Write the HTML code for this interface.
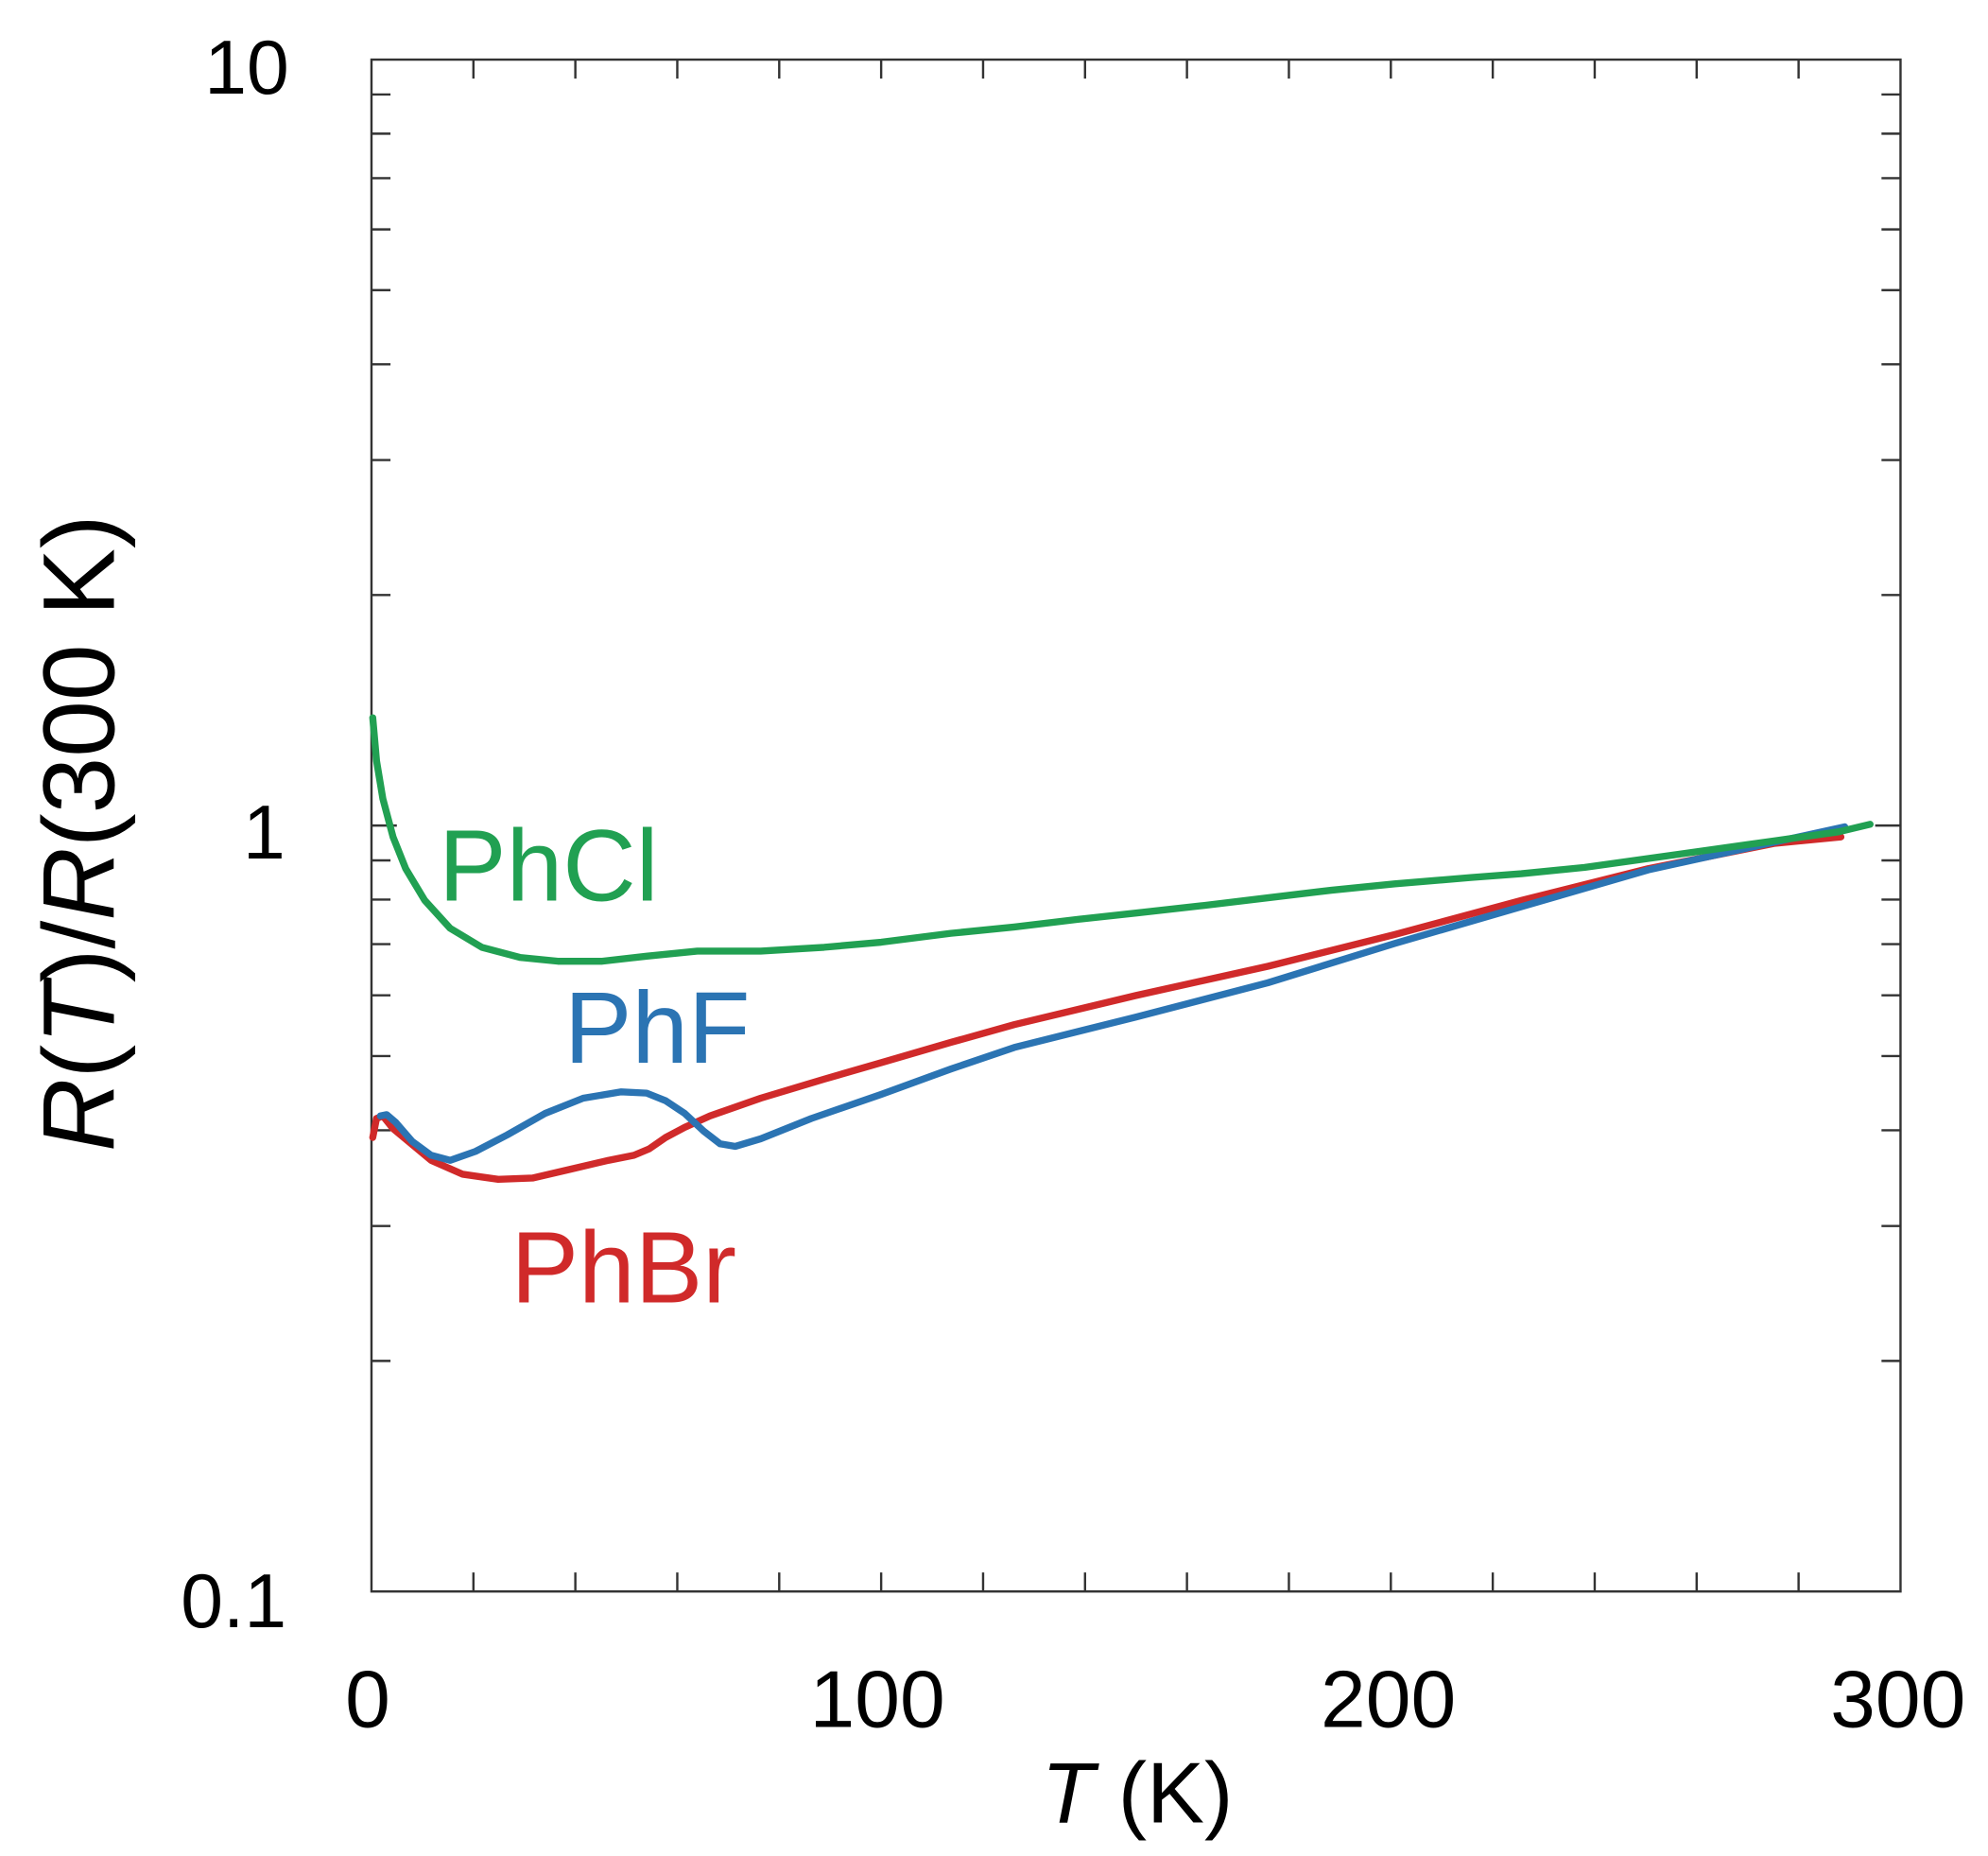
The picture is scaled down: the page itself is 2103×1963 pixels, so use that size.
<!DOCTYPE html>
<html><head><meta charset="utf-8"><style>html,body{margin:0;padding:0;background:#fff}svg{display:block}</style></head>
<body>
<svg width="2103" height="1963" viewBox="0 0 1568 1463.6" xmlns="http://www.w3.org/2000/svg" font-family="Liberation Sans, sans-serif">
<rect x="0" y="0" width="1568" height="1464" fill="#fff"/>
<g stroke="#333" stroke-width="1.8" fill="none">
<rect x="293" y="47" width="1206" height="1208"/>
<path d="M373.4 1255v-15M453.8 1255v-15M534.2 1255v-15M614.6 1255v-15M695 1255v-15M775.4 1255v-15M855.8 1255v-15M936.2 1255v-15M1016.6 1255v-15M1097 1255v-15M1177.4 1255v-15M1257.8 1255v-15M1338.2 1255v-15M1418.6 1255v-15
M373.4 47v15M453.8 47v15M534.2 47v15M614.6 47v15M695 47v15M775.4 47v15M855.8 47v15M936.2 47v15M1016.6 47v15M1097 47v15M1177.4 47v15M1257.8 47v15M1338.2 47v15M1418.6 47v15"/>
<path d="M293 1073.2h15M293 966.8h15M293 891.3h15M293 832.8h15M293 784.9h15M293 744.5h15M293 709.4h15M293 678.5h15M293 651h20
M293 469.2h15M293 362.8h15M293 287.3h15M293 228.8h15M293 180.9h15M293 140.5h15M293 105.4h15M293 74.5h15"/>
<path d="M1499 1073.2h-15M1499 966.8h-15M1499 891.3h-15M1499 832.8h-15M1499 784.9h-15M1499 744.5h-15M1499 709.4h-15M1499 678.5h-15M1499 651h-20
M1499 469.2h-15M1499 362.8h-15M1499 287.3h-15M1499 228.8h-15M1499 180.9h-15M1499 140.5h-15M1499 105.4h-15M1499 74.5h-15"/>
</g>
<g fill="none" stroke-width="5.5" stroke-linejoin="round" stroke-linecap="round">
<path stroke="#d02a2a" d="M294 897 L297 882 L302 880 L310 890 L322 900 L340 915 L365 926 L393 930 L420 929 L450 922 L480 915 L500 911 L512 906 L525 897 L540 889 L560 880 L600 866 L650 851 L695 838 L750 822 L800 808 L896 785 L1000 762 L1100 737 L1200 710 L1300 685 L1400 665 L1452 660"/>
<path stroke="#2b74b3" d="M300 880 L305 879 L312 885 L325 900 L340 911 L355 915 L375 908 L400 895 L430 878 L460 866 L490 861 L510 862 L525 868 L540 878 L555 892 L568 902 L580 904 L600 898 L640 882 L695 863 L750 843 L800 826 L896 802 L1000 775 L1100 744 L1200 715 L1300 686 L1400 664 L1455 652"/>
<path stroke="#21a052" d="M294 566 L297 600 L302 630 L310 660 L320 685 L335 710 L355 732 L380 747 L410 755 L440 758 L475 758 L510 754 L550 750 L600 750 L650 747 L695 743 L750 736 L800 731 L850 725 L896 720 L950 714 L1000 708 L1050 702 L1100 697 L1160 692 L1200 689 L1250 684 L1300 677 L1350 670 L1400 663 L1450 656 L1475 650"/>
</g>
<g font-size="60" fill="#000" text-anchor="end">
<text x="228" y="74">10</text>
<text x="225" y="677">1</text>
<text x="226" y="1283">0.1</text>
</g>
<g font-size="64" fill="#000" text-anchor="middle">
<text x="290" y="1362">0</text>
<text x="692" y="1362">100</text>
<text x="1095" y="1362">200</text>
<text x="1497" y="1362">300</text>
<text x="897" y="1437" font-size="68"><tspan font-style="italic">T</tspan> (K)</text>
<text transform="translate(90 657) rotate(-90)" font-size="80"><tspan font-style="italic">R</tspan>(<tspan font-style="italic">T</tspan>)/<tspan font-style="italic">R</tspan>(300 K)</text>
</g>
<g font-size="80">
<text x="346" y="710" fill="#21a052">PhCl</text>
<text x="445" y="838" fill="#2b74b3">PhF</text>
<text x="403" y="1027" fill="#d02a2a">PhBr</text>
</g>
</svg>
</body></html>
